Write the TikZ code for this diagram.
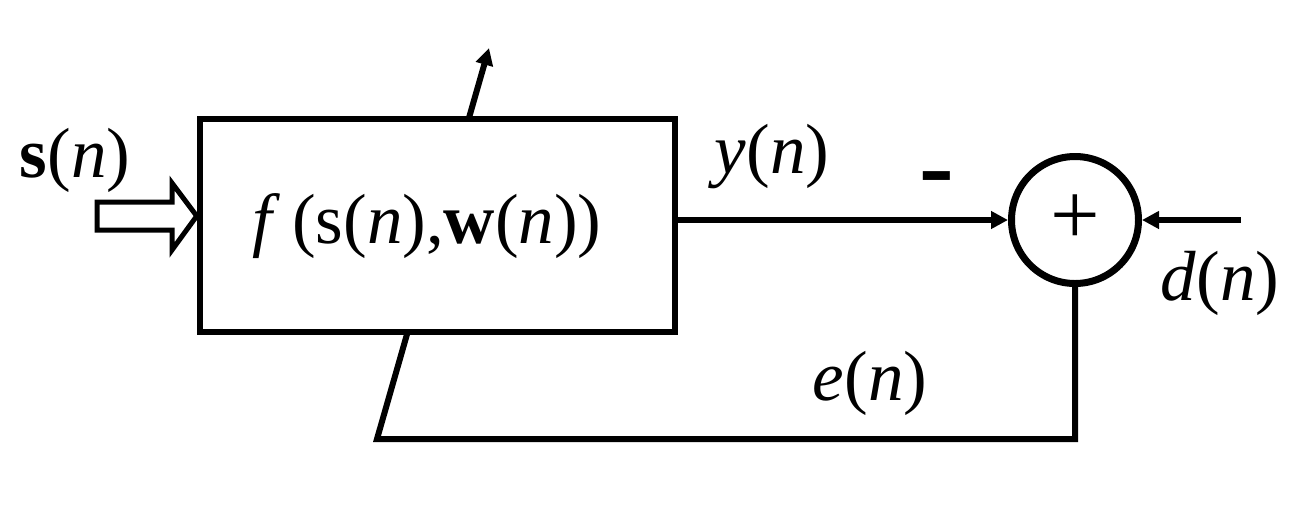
\documentclass[tikz,border=0pt]{standalone}
\usepackage{fontspec}
\newfontfamily\libs{Liberation Serif}
\usetikzlibrary{arrows.meta}
\begin{document}
\begin{tikzpicture}[x=0.5pt,y=-0.5pt,
  lbl/.style={inner sep=0pt,font=\fontsize{35.5}{40}\selectfont\libs},
  sig/.style={line width=3pt},
  tip/.style={-{Triangle[length=8.5pt,width=8.5pt]}},
  blk/.style={draw,line width=3.25pt,fill=white,minimum width=237.5pt,minimum height=106.5pt,inner sep=0pt},
  sumnode/.style={draw,circle,line width=3.5pt,minimum size=63.5pt,inner sep=0pt,font=\fontsize{44}{46}\selectfont\libs}]
\useasboundingbox (0,0) rectangle (1308,521);
% nodes
\node[sumnode] (sum) at (1075,220) {+};
\coordinate (adjB) at (377,439);
\coordinate (adjT) at (489,48);
\coordinate (din) at (1241,220);
% adaptation line and feedback (drawn before the box so the box hides it)
\draw[sig,tip,line join=miter] (sum.south) |- (adjB) -- (adjT);
\node[blk] (box) at (437.5,225.25) {};
\node[lbl] (fl) at (427,226) {\textit{f}\,(s(\textit{n}),\textbf{w}(\textit{n}))};
% signal lines
\draw[sig,tip] (sum.west -| box.east) -- (sum.west);
\draw[sig,tip] (din) -- (sum.east);
% hollow input arrow
\draw[line width=2.5pt,line join=miter] (97,202) -- (172,202) -- (172,183) -- (box.west |- 0,216) -- (172,250) -- (172,230) -- (97,230) -- cycle;
% labels
\node[lbl] (sl) at (75,160) {\textbf{s}(\textit{n})};
\node[lbl] (yl) at (772,157) {\textit{y}(\textit{n})};
\node[lbl] (el) at (870,383) {\textit{e}(\textit{n})};
\node[lbl] (dl) at (1220,283) {\textit{d}(\textit{n})};
\node[inner sep=0pt,font=\fontsize{52}{55}\selectfont\libs\bfseries] (minus) at (937,186) {-};
\end{tikzpicture}
\end{document}
